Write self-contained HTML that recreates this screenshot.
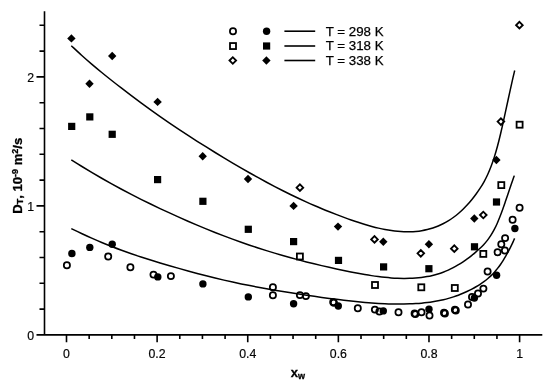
<!DOCTYPE html>
<html><head><meta charset="utf-8"><title>Chart</title>
<style>html,body{margin:0;padding:0;background:#fff}svg{display:block}text{font-family:"Liberation Sans",sans-serif;fill:#000}</style>
</head><body>
<svg width="550" height="385" viewBox="0 0 550 385">
<rect width="550" height="385" fill="#fff"/>
<path d="M44.5 11.2V334.9H542.3M66.50 334.9V342.20M89.16 334.9V338.90M111.81 334.9V338.90M134.47 334.9V338.90M157.12 334.9V342.20M179.78 334.9V338.90M202.43 334.9V338.90M225.09 334.9V338.90M247.74 334.9V342.20M270.39 334.9V338.90M293.05 334.9V338.90M315.71 334.9V338.90M338.36 334.9V342.20M361.01 334.9V338.90M383.67 334.9V338.90M406.32 334.9V338.90M428.98 334.9V342.20M451.64 334.9V338.90M474.29 334.9V338.90M496.94 334.9V338.90M519.60 334.9V342.20M44.5 334.90H36.50M44.5 309.10H39.50M44.5 283.30H39.50M44.5 257.50H39.50M44.5 231.70H39.50M44.5 205.90H36.50M44.5 180.10H39.50M44.5 154.30H39.50M44.5 128.50H39.50M44.5 102.70H39.50M44.5 76.90H36.50M44.5 51.10H39.50M44.5 25.30H39.50" fill="none" stroke="#000" stroke-width="1.6"/>
<text x="66.5" y="357.9" font-size="12.3" text-anchor="middle" fill="#111" stroke="#111" stroke-width="0.2">0</text>
<text x="157.1" y="357.9" font-size="12.3" text-anchor="middle" fill="#111" stroke="#111" stroke-width="0.2">0.2</text>
<text x="247.7" y="357.9" font-size="12.3" text-anchor="middle" fill="#111" stroke="#111" stroke-width="0.2">0.4</text>
<text x="338.4" y="357.9" font-size="12.3" text-anchor="middle" fill="#111" stroke="#111" stroke-width="0.2">0.6</text>
<text x="429.0" y="357.9" font-size="12.3" text-anchor="middle" fill="#111" stroke="#111" stroke-width="0.2">0.8</text>
<text x="519.6" y="357.9" font-size="12.3" text-anchor="middle" fill="#111" stroke="#111" stroke-width="0.2">1</text>
<text x="34.1" y="339.9" font-size="12.3" text-anchor="end" fill="#111" stroke="#111" stroke-width="0.2">0</text>
<text x="34.1" y="210.9" font-size="12.3" text-anchor="end" fill="#111" stroke="#111" stroke-width="0.2">1</text>
<text x="34.1" y="81.9" font-size="12.3" text-anchor="end" fill="#111" stroke="#111" stroke-width="0.2">2</text>
<text x="290.8" y="377" font-size="13" font-weight="bold" stroke="#000" stroke-width="0.3">x<tspan font-size="9" dy="1.5">w</tspan></text>
<text transform="translate(21.6 213.8) rotate(-90)" font-size="13.1" font-weight="bold" stroke="#000" stroke-width="0.3">D<tspan font-size="9" dy="1.5">T</tspan><tspan dy="-1.5">, 10</tspan><tspan font-size="9" dy="-4">-9</tspan><tspan dy="4"> m</tspan><tspan font-size="9" dy="-4">2</tspan><tspan dy="4">/s</tspan></text>
<path d="M71.30 45.74 C73.01 47.32 78.14 52.15 81.54 55.21 C84.93 58.27 88.32 61.21 91.68 64.09 C95.05 66.97 98.40 69.75 101.74 72.48 C105.08 75.21 108.40 77.86 111.71 80.48 C115.01 83.09 118.30 85.64 121.58 88.16 C124.86 90.68 128.12 93.16 131.36 95.60 C134.61 98.04 137.84 100.44 141.05 102.81 C144.27 105.17 147.46 107.50 150.65 109.78 C153.83 112.07 157.00 114.32 160.15 116.53 C163.30 118.74 166.44 120.91 169.56 123.04 C172.68 125.18 175.78 127.27 178.87 129.33 C181.96 131.40 185.03 133.42 188.08 135.41 C191.14 137.41 194.18 139.36 197.20 141.29 C200.23 143.22 203.24 145.12 206.23 146.99 C209.22 148.85 212.19 150.69 215.15 152.50 C218.11 154.31 221.05 156.10 223.98 157.85 C226.90 159.61 229.81 161.35 232.70 163.05 C235.60 164.76 238.47 166.44 241.33 168.10 C244.19 169.76 247.03 171.39 249.86 172.99 C252.68 174.59 255.49 176.16 258.28 177.71 C261.07 179.25 263.85 180.77 266.60 182.25 C269.36 183.73 272.10 185.19 274.82 186.61 C277.54 188.03 280.25 189.42 282.93 190.78 C285.62 192.14 288.29 193.47 290.94 194.76 C293.59 196.05 296.23 197.31 298.85 198.54 C301.46 199.76 304.06 200.96 306.64 202.12 C309.22 203.29 311.78 204.42 314.33 205.52 C316.87 206.63 319.40 207.70 321.91 208.74 C324.41 209.79 326.90 210.80 329.38 211.79 C331.85 212.77 334.30 213.73 336.73 214.66 C339.17 215.59 341.58 216.49 343.98 217.37 C346.37 218.24 348.75 219.10 351.11 219.92 C353.47 220.74 355.81 221.54 358.13 222.30 C360.45 223.06 362.75 223.80 365.03 224.49 C367.31 225.18 369.57 225.83 371.81 226.44 C374.05 227.04 376.27 227.61 378.47 228.12 C380.68 228.63 382.86 229.10 385.02 229.51 C387.18 229.92 389.32 230.28 391.44 230.59 C393.56 230.89 395.66 231.14 397.74 231.33 C399.82 231.52 401.88 231.65 403.92 231.73 C405.95 231.80 407.97 231.81 409.97 231.76 C411.96 231.71 413.93 231.61 415.89 231.43 C417.84 231.25 419.77 231.02 421.68 230.70 C423.58 230.39 425.47 230.01 427.33 229.56 C429.20 229.11 431.04 228.58 432.86 227.98 C434.68 227.38 436.47 226.71 438.25 225.96 C440.02 225.21 441.77 224.39 443.49 223.50 C445.22 222.60 446.92 221.63 448.60 220.59 C450.28 219.54 451.94 218.43 453.57 217.24 C455.20 216.06 456.80 214.80 458.38 213.46 C459.96 212.13 461.52 210.72 463.05 209.24 C464.58 207.76 466.09 206.20 467.56 204.58 C469.04 202.96 470.50 201.26 471.92 199.51 C473.35 197.75 474.75 195.93 476.12 194.04 C477.49 192.16 478.83 190.25 480.15 188.21 C481.47 186.17 482.75 184.09 484.01 181.80 C485.27 179.51 486.50 177.11 487.70 174.48 C488.90 171.86 490.07 169.06 491.21 166.04 C492.35 163.02 493.46 159.79 494.53 156.37 C495.61 152.95 496.65 149.26 497.66 145.49 C498.67 141.72 499.65 137.68 500.59 133.74 C501.53 129.80 502.44 125.73 503.30 121.85 C504.17 117.97 505.00 114.09 505.79 110.45 C506.58 106.81 507.34 103.27 508.05 99.99 C508.76 96.72 509.43 93.62 510.04 90.80 C510.66 87.98 511.24 85.38 511.76 83.07 C512.28 80.76 512.76 78.70 513.16 76.95 C513.57 75.21 513.94 73.68 514.19 72.61 C514.45 71.54 514.62 70.87 514.70 70.53" fill="none" stroke="#000" stroke-width="1.5" stroke-linecap="butt"/>
<path d="M71.30 159.89 C73.00 160.95 78.13 164.17 81.53 166.26 C84.92 168.34 88.30 170.38 91.67 172.38 C95.03 174.38 98.38 176.34 101.71 178.26 C105.05 180.17 108.37 182.05 111.67 183.89 C114.97 185.72 118.26 187.51 121.53 189.27 C124.81 191.02 128.07 192.73 131.31 194.41 C134.55 196.08 137.78 197.72 140.99 199.32 C144.20 200.93 147.40 202.49 150.58 204.03 C153.76 205.57 156.92 207.08 160.07 208.56 C163.22 210.05 166.35 211.50 169.47 212.93 C172.58 214.36 175.69 215.76 178.77 217.14 C181.86 218.52 184.93 219.88 187.98 221.21 C191.03 222.54 194.07 223.85 197.09 225.12 C200.11 226.40 203.12 227.65 206.11 228.88 C209.09 230.10 212.07 231.30 215.02 232.47 C217.98 233.64 220.92 234.79 223.84 235.90 C226.76 237.02 229.67 238.11 232.56 239.17 C235.45 240.23 238.32 241.26 241.18 242.26 C244.03 243.27 246.87 244.25 249.70 245.20 C252.52 246.16 255.32 247.09 258.11 247.99 C260.90 248.90 263.67 249.78 266.43 250.64 C269.18 251.49 271.92 252.33 274.64 253.14 C277.36 253.96 280.06 254.75 282.74 255.52 C285.43 256.29 288.10 257.04 290.74 257.77 C293.39 258.50 296.03 259.21 298.64 259.90 C301.25 260.59 303.85 261.27 306.43 261.92 C309.01 262.58 311.57 263.21 314.11 263.83 C316.65 264.45 319.18 265.05 321.68 265.64 C324.19 266.22 326.67 266.79 329.14 267.35 C331.61 267.90 334.06 268.44 336.49 268.96 C338.92 269.49 341.34 269.99 343.73 270.49 C346.13 270.98 348.50 271.46 350.86 271.93 C353.21 272.39 355.55 272.85 357.87 273.28 C360.18 273.71 362.48 274.13 364.76 274.52 C367.04 274.91 369.30 275.28 371.54 275.62 C373.78 275.96 376.00 276.27 378.20 276.56 C380.40 276.84 382.58 277.10 384.74 277.32 C386.90 277.54 389.03 277.74 391.15 277.89 C393.27 278.05 395.37 278.17 397.45 278.26 C399.52 278.34 401.58 278.39 403.62 278.40 C405.65 278.41 407.67 278.39 409.66 278.32 C411.65 278.26 413.62 278.15 415.57 278.01 C417.53 277.86 419.45 277.67 421.36 277.43 C423.27 277.20 425.15 276.92 427.01 276.58 C428.88 276.25 430.72 275.86 432.53 275.43 C434.35 274.99 436.14 274.51 437.91 273.97 C439.69 273.43 441.43 272.83 443.16 272.19 C444.88 271.54 446.58 270.84 448.26 270.09 C449.94 269.34 451.59 268.53 453.22 267.68 C454.85 266.83 456.45 265.92 458.03 264.98 C459.61 264.04 461.17 263.05 462.70 262.03 C464.23 261.02 465.73 259.96 467.21 258.88 C468.68 257.80 470.14 256.68 471.56 255.55 C472.98 254.42 474.38 253.26 475.75 252.08 C477.12 250.91 478.47 249.74 479.78 248.51 C481.10 247.28 482.38 246.06 483.64 244.71 C484.90 243.36 486.13 241.95 487.33 240.41 C488.53 238.87 489.69 237.23 490.83 235.44 C491.97 233.66 493.08 231.75 494.15 229.70 C495.23 227.66 496.27 225.46 497.28 223.18 C498.29 220.91 499.26 218.45 500.20 216.03 C501.14 213.62 502.05 211.10 502.91 208.69 C503.78 206.28 504.61 203.85 505.40 201.55 C506.19 199.26 506.95 197.01 507.65 194.92 C508.36 192.83 509.03 190.83 509.65 189.00 C510.27 187.18 510.85 185.48 511.36 183.97 C511.88 182.46 512.36 181.09 512.77 179.93 C513.17 178.78 513.54 177.75 513.79 177.03 C514.05 176.32 514.22 175.87 514.30 175.63" fill="none" stroke="#000" stroke-width="1.5" stroke-linecap="butt"/>
<path d="M71.30 228.56 C73.01 229.38 78.14 231.89 81.53 233.49 C84.93 235.08 88.31 236.63 91.68 238.12 C95.05 239.61 98.40 241.06 101.73 242.46 C105.07 243.85 108.39 245.20 111.70 246.50 C115.00 247.80 118.29 249.05 121.57 250.26 C124.84 251.46 128.10 252.62 131.35 253.74 C134.59 254.86 137.82 255.94 141.04 256.99 C144.25 258.04 147.45 259.05 150.63 260.04 C153.81 261.03 156.98 261.99 160.13 262.94 C163.28 263.88 166.41 264.80 169.53 265.71 C172.65 266.61 175.76 267.51 178.84 268.38 C181.93 269.26 185.00 270.12 188.06 270.96 C191.11 271.80 194.15 272.62 197.18 273.43 C200.20 274.23 203.21 275.02 206.20 275.78 C209.19 276.55 212.16 277.29 215.12 278.01 C218.08 278.74 221.02 279.44 223.94 280.11 C226.87 280.79 229.78 281.45 232.67 282.08 C235.56 282.71 238.43 283.32 241.29 283.91 C244.15 284.50 246.99 285.06 249.82 285.61 C252.64 286.16 255.45 286.70 258.24 287.21 C261.03 287.73 263.80 288.23 266.56 288.72 C269.31 289.21 272.05 289.68 274.77 290.14 C277.50 290.60 280.20 291.05 282.89 291.49 C285.57 291.93 288.24 292.36 290.89 292.79 C293.54 293.21 296.18 293.62 298.79 294.03 C301.41 294.43 304.01 294.83 306.59 295.21 C309.17 295.60 311.73 295.98 314.27 296.34 C316.82 296.71 319.34 297.06 321.85 297.41 C324.36 297.75 326.85 298.09 329.32 298.41 C331.79 298.74 334.24 299.05 336.67 299.35 C339.11 299.65 341.52 299.94 343.92 300.22 C346.31 300.50 348.69 300.76 351.05 301.02 C353.40 301.27 355.74 301.52 358.06 301.74 C360.38 301.97 362.68 302.19 364.96 302.38 C367.24 302.58 369.50 302.77 371.74 302.93 C373.98 303.10 376.20 303.25 378.40 303.38 C380.61 303.51 382.79 303.62 384.95 303.71 C387.11 303.80 389.25 303.88 391.37 303.93 C393.49 303.98 395.59 304.02 397.67 304.03 C399.75 304.04 401.80 304.03 403.84 304.00 C405.88 303.97 407.89 303.92 409.89 303.85 C411.88 303.78 413.86 303.68 415.81 303.57 C417.76 303.45 419.69 303.31 421.60 303.14 C423.50 302.97 425.39 302.77 427.25 302.55 C429.12 302.32 430.96 302.07 432.78 301.78 C434.59 301.50 436.39 301.18 438.16 300.84 C439.94 300.49 441.68 300.11 443.41 299.71 C445.14 299.30 446.84 298.86 448.52 298.38 C450.20 297.91 451.85 297.41 453.48 296.88 C455.11 296.34 456.71 295.78 458.30 295.18 C459.88 294.59 461.43 293.96 462.96 293.31 C464.49 292.66 466.00 291.98 467.47 291.27 C468.95 290.56 470.41 289.83 471.83 289.07 C473.26 288.31 474.66 287.53 476.03 286.73 C477.40 285.93 478.74 285.11 480.06 284.26 C481.37 283.41 482.66 282.54 483.92 281.62 C485.18 280.70 486.41 279.75 487.61 278.75 C488.81 277.74 489.98 276.69 491.12 275.59 C492.25 274.49 493.36 273.34 494.44 272.14 C495.51 270.94 496.56 269.69 497.57 268.41 C498.57 267.12 499.55 265.79 500.49 264.45 C501.43 263.10 502.34 261.72 503.21 260.35 C504.07 258.98 504.91 257.58 505.70 256.22 C506.49 254.85 507.24 253.48 507.95 252.16 C508.66 250.85 509.33 249.54 509.95 248.32 C510.56 247.09 511.14 245.90 511.66 244.82 C512.18 243.73 512.66 242.70 513.06 241.82 C513.47 240.94 513.84 240.11 514.09 239.54 C514.35 238.97 514.52 238.59 514.60 238.40" fill="none" stroke="#000" stroke-width="1.5" stroke-linecap="butt"/>
<circle cx="66.9" cy="265.3" r="3.1" fill="none" stroke="#000" stroke-width="1.75"/>
<circle cx="108.2" cy="256.5" r="3.1" fill="none" stroke="#000" stroke-width="1.75"/>
<circle cx="130.4" cy="267.3" r="3.1" fill="none" stroke="#000" stroke-width="1.75"/>
<circle cx="153.5" cy="274.6" r="3.1" fill="none" stroke="#000" stroke-width="1.75"/>
<circle cx="170.9" cy="276.1" r="3.1" fill="none" stroke="#000" stroke-width="1.75"/>
<circle cx="272.9" cy="287.3" r="3.1" fill="none" stroke="#000" stroke-width="1.75"/>
<circle cx="272.9" cy="295.3" r="3.1" fill="none" stroke="#000" stroke-width="1.75"/>
<circle cx="299.9" cy="295.1" r="3.1" fill="none" stroke="#000" stroke-width="1.75"/>
<circle cx="305.9" cy="296.1" r="3.1" fill="none" stroke="#000" stroke-width="1.75"/>
<circle cx="333.2" cy="302.1" r="3.1" fill="none" stroke="#000" stroke-width="1.75"/>
<circle cx="333.9" cy="302.8" r="3.1" fill="none" stroke="#000" stroke-width="1.75"/>
<circle cx="357.8" cy="308.2" r="3.1" fill="none" stroke="#000" stroke-width="1.75"/>
<circle cx="374.9" cy="309.6" r="3.1" fill="none" stroke="#000" stroke-width="1.75"/>
<circle cx="379.4" cy="311.4" r="3.1" fill="none" stroke="#000" stroke-width="1.75"/>
<circle cx="398.5" cy="312.3" r="3.1" fill="none" stroke="#000" stroke-width="1.75"/>
<circle cx="414.6" cy="313.5" r="3.1" fill="none" stroke="#000" stroke-width="1.75"/>
<circle cx="415.4" cy="314.1" r="3.1" fill="none" stroke="#000" stroke-width="1.75"/>
<circle cx="421.5" cy="312.3" r="3.1" fill="none" stroke="#000" stroke-width="1.75"/>
<circle cx="429.5" cy="315.4" r="3.1" fill="none" stroke="#000" stroke-width="1.75"/>
<circle cx="444.0" cy="312.7" r="3.1" fill="none" stroke="#000" stroke-width="1.75"/>
<circle cx="444.9" cy="313.4" r="3.1" fill="none" stroke="#000" stroke-width="1.75"/>
<circle cx="454.9" cy="309.8" r="3.1" fill="none" stroke="#000" stroke-width="1.75"/>
<circle cx="455.8" cy="310.4" r="3.1" fill="none" stroke="#000" stroke-width="1.75"/>
<circle cx="468.0" cy="304.4" r="3.1" fill="none" stroke="#000" stroke-width="1.75"/>
<circle cx="472.0" cy="297.0" r="3.1" fill="none" stroke="#000" stroke-width="1.75"/>
<circle cx="478.0" cy="293.4" r="3.1" fill="none" stroke="#000" stroke-width="1.75"/>
<circle cx="483.4" cy="288.6" r="3.1" fill="none" stroke="#000" stroke-width="1.75"/>
<circle cx="487.6" cy="271.5" r="3.1" fill="none" stroke="#000" stroke-width="1.75"/>
<circle cx="497.6" cy="252.2" r="3.1" fill="none" stroke="#000" stroke-width="1.75"/>
<circle cx="504.9" cy="250.5" r="3.1" fill="none" stroke="#000" stroke-width="1.75"/>
<circle cx="501.3" cy="244.3" r="3.1" fill="none" stroke="#000" stroke-width="1.75"/>
<circle cx="505.1" cy="238.1" r="3.1" fill="none" stroke="#000" stroke-width="1.75"/>
<circle cx="512.6" cy="219.8" r="3.1" fill="none" stroke="#000" stroke-width="1.75"/>
<circle cx="519.6" cy="207.7" r="3.1" fill="none" stroke="#000" stroke-width="1.75"/>
<rect x="296.90" y="253.50" width="6.0" height="6.0" fill="none" stroke="#000" stroke-width="1.8"/>
<rect x="372.00" y="282.00" width="6.0" height="6.0" fill="none" stroke="#000" stroke-width="1.8"/>
<rect x="418.30" y="284.30" width="6.0" height="6.0" fill="none" stroke="#000" stroke-width="1.8"/>
<rect x="451.80" y="285.00" width="6.0" height="6.0" fill="none" stroke="#000" stroke-width="1.8"/>
<rect x="480.30" y="250.90" width="6.0" height="6.0" fill="none" stroke="#000" stroke-width="1.8"/>
<rect x="498.30" y="182.10" width="6.0" height="6.0" fill="none" stroke="#000" stroke-width="1.8"/>
<rect x="516.60" y="121.70" width="6.0" height="6.0" fill="none" stroke="#000" stroke-width="1.8"/>
<path d="M296.6 187.7L299.9 184.4L303.2 187.7L299.9 191.0Z" fill="none" stroke="#000" stroke-width="1.85"/>
<path d="M371.2 239.4L374.5 236.1L377.8 239.4L374.5 242.7Z" fill="none" stroke="#000" stroke-width="1.85"/>
<path d="M417.5 253.3L420.8 250.0L424.1 253.3L420.8 256.6Z" fill="none" stroke="#000" stroke-width="1.85"/>
<path d="M451.0 248.7L454.3 245.4L457.6 248.7L454.3 252.0Z" fill="none" stroke="#000" stroke-width="1.85"/>
<path d="M480.0 215.0L483.3 211.7L486.6 215.0L483.3 218.3Z" fill="none" stroke="#000" stroke-width="1.85"/>
<path d="M497.6 121.6L500.9 118.3L504.2 121.6L500.9 124.9Z" fill="none" stroke="#000" stroke-width="1.85"/>
<path d="M516.1 25.2L519.4 21.9L522.7 25.2L519.4 28.5Z" fill="none" stroke="#000" stroke-width="1.85"/>
<circle cx="71.9" cy="253.5" r="3.7"/>
<circle cx="89.8" cy="247.4" r="3.7"/>
<circle cx="112.2" cy="244.2" r="3.7"/>
<circle cx="157.8" cy="276.9" r="3.7"/>
<circle cx="202.9" cy="283.9" r="3.7"/>
<circle cx="248.3" cy="296.9" r="3.7"/>
<circle cx="293.6" cy="303.7" r="3.7"/>
<circle cx="338.3" cy="306.0" r="3.7"/>
<circle cx="383.3" cy="310.9" r="3.7"/>
<circle cx="429.0" cy="309.3" r="3.7"/>
<circle cx="474.4" cy="298.0" r="3.7"/>
<circle cx="496.6" cy="275.2" r="3.7"/>
<circle cx="514.9" cy="228.5" r="3.7"/>
<rect x="68.1" y="122.8" width="7.2" height="7.2"/>
<rect x="86.2" y="113.3" width="7.2" height="7.2"/>
<rect x="108.6" y="130.7" width="7.2" height="7.2"/>
<rect x="154.0" y="176.0" width="7.2" height="7.2"/>
<rect x="199.3" y="197.7" width="7.2" height="7.2"/>
<rect x="244.7" y="225.7" width="7.2" height="7.2"/>
<rect x="290.0" y="238.0" width="7.2" height="7.2"/>
<rect x="334.9" y="256.8" width="7.2" height="7.2"/>
<rect x="380.0" y="263.3" width="7.2" height="7.2"/>
<rect x="425.3" y="265.1" width="7.2" height="7.2"/>
<rect x="470.9" y="243.2" width="7.2" height="7.2"/>
<rect x="492.9" y="198.4" width="7.2" height="7.2"/>
<path d="M67.2 38.4L71.4 34.2L75.6 38.4L71.4 42.6Z"/>
<path d="M108.0 56.0L112.2 51.8L116.4 56.0L112.2 60.2Z"/>
<path d="M85.3 83.7L89.5 79.5L93.7 83.7L89.5 87.9Z"/>
<path d="M153.4 101.9L157.6 97.7L161.8 101.9L157.6 106.1Z"/>
<path d="M198.5 156.2L202.7 152.0L206.9 156.2L202.7 160.4Z"/>
<path d="M243.8 179.0L248.0 174.8L252.2 179.0L248.0 183.2Z"/>
<path d="M289.4 205.9L293.6 201.7L297.8 205.9L293.6 210.1Z"/>
<path d="M333.8 226.6L338.0 222.4L342.2 226.6L338.0 230.8Z"/>
<path d="M379.1 241.7L383.3 237.5L387.5 241.7L383.3 245.9Z"/>
<path d="M424.7 244.2L428.9 240.0L433.1 244.2L428.9 248.4Z"/>
<path d="M470.1 218.5L474.3 214.3L478.5 218.5L474.3 222.7Z"/>
<path d="M492.2 160.0L496.4 155.8L500.6 160.0L496.4 164.2Z"/>
<circle cx="233.0" cy="31.2" r="3.1" fill="none" stroke="#000" stroke-width="1.75"/>
<circle cx="266.6" cy="31.2" r="3.7"/>
<rect x="230.00" y="43.05" width="6.0" height="6.0" fill="none" stroke="#000" stroke-width="1.8"/>
<rect x="263.0" y="42.4" width="7.2" height="7.2"/>
<path d="M229.5 60.5L232.8 57.2L236.1 60.5L232.8 63.8Z" fill="none" stroke="#000" stroke-width="1.85"/>
<path d="M262.2 60.5L266.4 56.2L270.6 60.5L266.4 64.7Z"/>
<path d="M284.4 31.2H315.2" stroke="#000" stroke-width="1.6"/>
<text x="325.8" y="35.8" font-size="13.3" stroke="#000" stroke-width="0.25">T = 298 K</text>
<path d="M284.4 46.0H315.2" stroke="#000" stroke-width="1.6"/>
<text x="325.8" y="50.3" font-size="13.3" stroke="#000" stroke-width="0.25">T = 318 K</text>
<path d="M284.4 60.5H315.2" stroke="#000" stroke-width="1.6"/>
<text x="325.8" y="64.8" font-size="13.3" stroke="#000" stroke-width="0.25">T = 338 K</text>
</svg></body></html>
